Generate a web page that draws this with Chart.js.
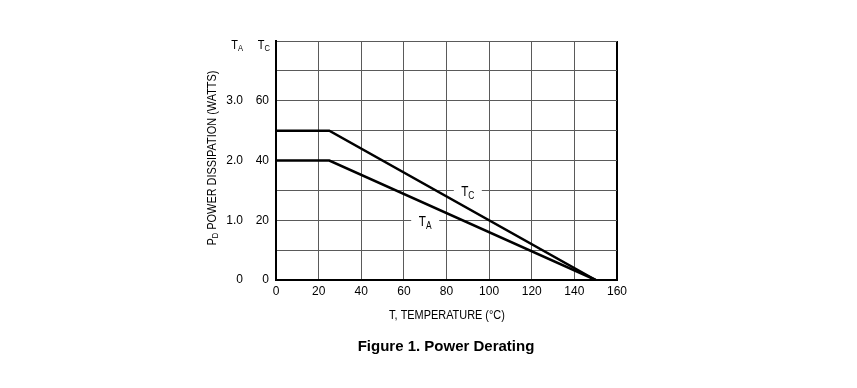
<!DOCTYPE html>
<html lang="en">
<head>
  <meta charset="UTF-8">
  <title>Power Derating</title>
  <script src="https://cdn.jsdelivr.net/npm/chart.js"></script>
  <style>
    body { margin: 0; background: #fff; }
  </style>
</head>
<body>
<canvas id="derating" width="857" height="388"></canvas>

<script>
  // temperature breakpoints (deg C)
  const temps = [0, 25, 150];
  // power dissipation, case temperature curve (read on TC axis, watts)
  const tcPower = [50, 50, 0];
  // power dissipation, ambient temperature curve (read on TA axis, watts)
  const taPower = [2.0, 2.0, 0];
  // axis ticks
  const xTicks = [0, 20, 40, 60, 80, 100, 120, 140, 160];
  const tcTickLabels = [0, 20, 40, 60];
  const taTickLabels = [0, 1.0, 2.0, 3.0];

  const FONT = "'Liberation Sans', Arial, sans-serif";
  const SQUEEZE = 0.84; // fake a condensed face for the titles

  // text squeezed horizontally, drawn left-aligned at x; returns drawn width
  function narrowText(ctx, text, x, y, size) {
    ctx.save();
    ctx.font = size + 'px ' + FONT;
    ctx.textAlign = 'left';
    ctx.textBaseline = 'middle';
    ctx.fillStyle = '#000';
    ctx.translate(x, y);
    ctx.scale(SQUEEZE, 1);
    ctx.fillText(text, 0, 0);
    ctx.restore();
    ctx.font = size + 'px ' + FONT;
    return ctx.measureText(text).width * SQUEEZE;
  }

  function narrowWidth(ctx, text, size) {
    ctx.font = size + 'px ' + FONT;
    return ctx.measureText(text).width * SQUEEZE;
  }

  // letter with a subscript, e.g. T + C
  function drawSub(ctx, main, sub, x, y, size, align) {
    const subSize = Math.round(size * 0.72);
    const w = narrowWidth(ctx, main, size) + narrowWidth(ctx, sub, subSize);
    let left = x;
    if (align === 'center') left = x - w / 2;
    if (align === 'right') left = x - w;
    const w1 = narrowText(ctx, main, left, y, size);
    narrowText(ctx, sub, left + w1, y + size * 0.3, subSize);
    return w;
  }

  const annotations = {
    id: 'annotations',
    afterDatasetsDraw(chart) {
      const ctx = chart.ctx;
      const x = chart.scales.x;
      const yc = chart.scales.yTC;

      // curve labels sitting on grid lines
      const labels = [['C', 90, 30], ['A', 70, 20]];
      labels.forEach(([sub, tx, ty]) => {
        const px = x.getPixelForValue(tx);
        const py = yc.getPixelForValue(ty);
        ctx.fillStyle = '#fff';
        ctx.fillRect(px - 14, py - 4, 28, 9);
        drawSub(ctx, 'T', sub, px, py + 2, 14, 'center');
      });

      // column headers above the y tick labels
      drawSub(ctx, 'T', 'A', 243, 45, 13, 'right');
      drawSub(ctx, 'T', 'C', 270, 45, 13, 'right');

      // y axis title, rotated
      ctx.save();
      ctx.translate(212, 158);
      ctx.rotate(-Math.PI / 2);
      const rest = ' POWER DISSIPATION (WATTS)';
      const total = narrowWidth(ctx, 'P', 13) + narrowWidth(ctx, 'D', 9) + narrowWidth(ctx, rest, 13);
      const wPD = drawSub(ctx, 'P', 'D', -total / 2, 0, 13, 'left');
      narrowText(ctx, rest, -total / 2 + wPD, 0, 13);
      ctx.restore();

      // x axis title
      const xt = 'T, TEMPERATURE (°C)';
      narrowText(ctx, xt, 447 - narrowWidth(ctx, xt, 13) / 2, 315, 13);

      // figure caption
      ctx.save();
      ctx.fillStyle = '#000';
      ctx.textAlign = 'center';
      ctx.textBaseline = 'middle';
      ctx.font = 'bold 15px ' + FONT;
      ctx.fillText('Figure 1. Power Derating', 446, 347);
      ctx.restore();
    }
  };

  new Chart(document.getElementById('derating'), {
    type: 'line',
    data: {
      datasets: [
        {
          label: 'TC',
          data: temps.map((t, i) => ({ x: t, y: tcPower[i] })),
          yAxisID: 'yTC',
          borderColor: '#000',
          borderWidth: 2.5,
          pointRadius: 0,
          tension: 0
        },
        {
          label: 'TA',
          data: temps.map((t, i) => ({ x: t, y: taPower[i] })),
          yAxisID: 'yTA',
          borderColor: '#000',
          borderWidth: 2.5,
          pointRadius: 0,
          tension: 0
        }
      ]
    },
    options: {
      responsive: false,
      animation: false,
      layout: { padding: { left: 216, right: 240, top: 41, bottom: 78 } },
      plugins: {
        legend: { display: false },
        tooltip: { enabled: false }
      },
      scales: {
        x: {
          type: 'linear',
          min: 0,
          max: 160,
          afterBuildTicks: s => { s.ticks = xTicks.map(v => ({ value: v })); },
          afterFit: s => { s.height = 30; },
          ticks: { padding: 4, color: '#000', font: { family: FONT, size: 12 } },
          grid: {
            drawTicks: false,
            color: c => c.tick && c.tick.value === 160 ? '#000' : '#5a5a5a',
            lineWidth: c => c.tick && c.tick.value === 160 ? 2 : 1
          },
          border: { color: '#000', width: 2 }
        },
        yTC: {
          type: 'linear',
          position: 'left',
          weight: 0,
          min: 0,
          max: 80,
          ticks: {
            stepSize: 10,
            padding: 7,
            color: '#000',
            font: { family: FONT, size: 12 },
            callback: v => tcTickLabels.includes(v) ? String(v) : ''
          },
          afterFit: s => { s.width = 30; },
          grid: { drawTicks: false, color: '#5a5a5a', lineWidth: 1 },
          border: { color: '#000', width: 2 }
        },
        yTA: {
          type: 'linear',
          position: 'left',
          weight: 1,
          min: 0,
          max: 4,
          ticks: {
            stepSize: 0.5,
            padding: 3,
            color: '#000',
            font: { family: FONT, size: 12 },
            callback: v => taTickLabels.includes(v) ? (v === 0 ? '0' : v.toFixed(1)) : ''
          },
          afterFit: s => { s.width = 30; },
          grid: { display: false, drawTicks: false },
          border: { display: false }
        }
      }
    },
    plugins: [annotations]
  });
</script>
</body>
</html>
